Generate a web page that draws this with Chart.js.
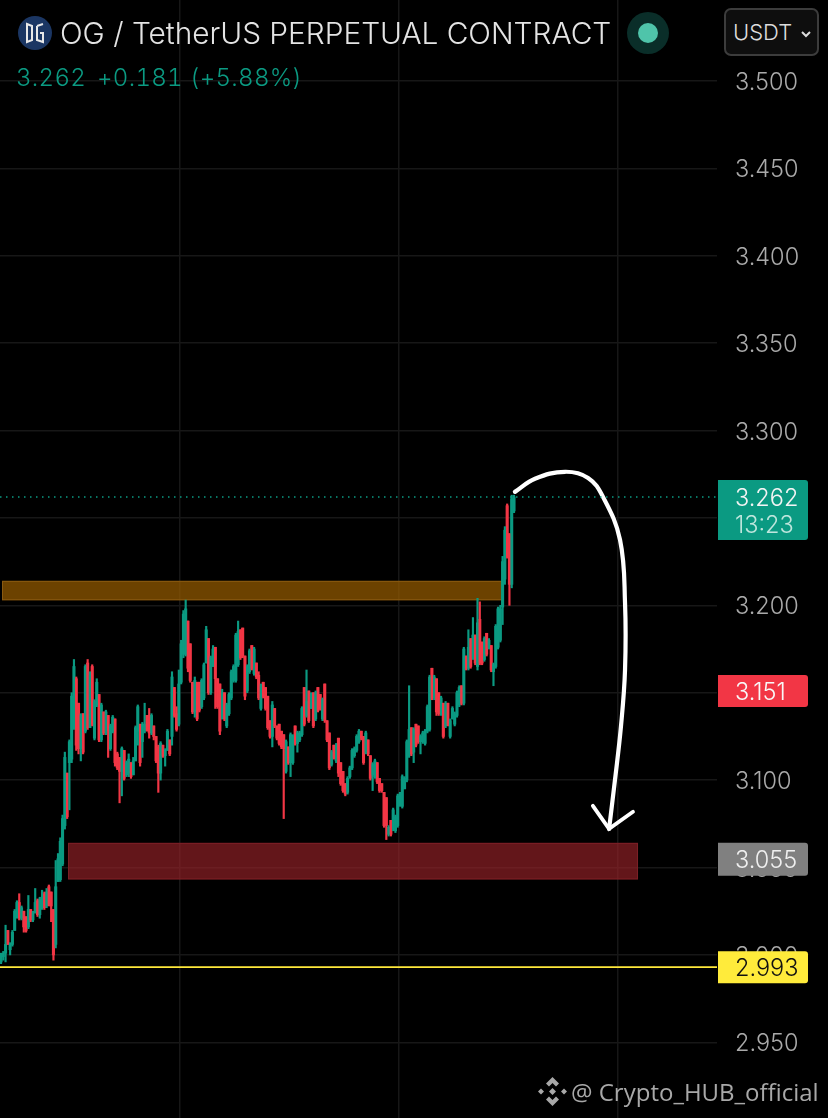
<!DOCTYPE html>
<html>
<head>
<meta charset="utf-8">
<title>OG / TetherUS</title>
<script src="https://cdn.jsdelivr.net/npm/chart.js@4/dist/chart.umd.js"></script>
<style>
  html, body { margin: 0; padding: 0; background: #000; }
  #wrap { position: relative; width: 828px; height: 1118px; overflow: hidden; font-family: Inter, Roboto, sans-serif; }
  canvas { position: absolute; left: 0; top: 0; }
  .abs { position: absolute; white-space: nowrap; }
  #title { left: 60px; top: 14px; font-size: 29.8px; line-height: 38px; font-weight: 300; color: #e4e4e4; }
  .quote { top: 63px; font-size: 24px; line-height: 30px; font-weight: 300; color: #0b9a82; font-variant-numeric: tabular-nums; letter-spacing: 0.3px; }
  #unit { left: 724px; top: 8px; width: 95px; height: 48px; box-sizing: border-box; border: 2px solid #3c3c3c; border-radius: 7px; background: #0e0e0e; color: #ddd; font-size: 22px; line-height: 44px; padding-left: 7px; font-weight: 300; }
  #mark { left: 571px; top: 1076px; font-family: "Open Sans", sans-serif; font-size: 24px; line-height: 32px; color: #a8a8a8; }
</style>
</head>
<body>
<div id="wrap">
  <canvas id="chart" width="828" height="1118"></canvas>
  <svg class="abs" style="left:18px;top:16px" width="34" height="34" viewBox="0 0 34 34">
    <circle cx="17" cy="17" r="17" fill="#1b3663"/>
    <path d="M9 8 L14 10 V24 L9 26 Z M19 10 L25 8 M19 10 V24 L25 26 V17 H22" fill="none" stroke="#e8e8e8" stroke-width="2"/>
  </svg>
  <div class="abs" id="title">OG / TetherUS PERPETUAL CONTRACT</div>
  <svg class="abs" style="left:626px;top:11px" width="44" height="44">
    <circle cx="22" cy="22" r="21" fill="#0a2e29"/>
    <circle cx="22" cy="22" r="10" fill="#4fc4aa"/>
  </svg>
  <div class="abs quote" style="left:16px">3.262</div>
  <div class="abs quote" style="left:97px">+0.181</div>
  <div class="abs quote" style="left:190px">(+5.88%)</div>
  <div class="abs" id="unit">USDT<svg style="position:absolute;left:74px;top:19px" width="12" height="10"><path d="M2 3 L6 7 L10 3" fill="none" stroke="#ddd" stroke-width="2"/></svg></div>
  <svg class="abs" style="left:538px;top:1077px" width="29" height="29" viewBox="0 0 29 29" fill="#a8a8a8">
    <path d="M14.5 0 L21 6.5 L18 9.5 L14.5 6 L11 9.5 L8 6.5 Z"/>
    <path d="M14.5 29 L21 22.5 L18 19.5 L14.5 23 L11 19.5 L8 22.5 Z"/>
    <path d="M0 14.5 L3 11.5 L6 14.5 L3 17.5 Z M23 14.5 L26 11.5 L29 14.5 L26 17.5 Z M14.5 11 L18 14.5 L14.5 18 L11 14.5 Z"/>
  </svg>
  <div class="abs" id="mark">@ Crypto_HUB_official</div>
</div>
<script>
const opens = [
  2.996,2.999,3.001,3.014,3.003,3.006,3.014,3.024,3.030,3.021,3.025,3.021,3.016,3.026,3.020,3.024,3.031,3.023,3.027,3.035,
  3.028,3.039,3.036,3.026,3.006,3.042,3.043,3.052,3.074,3.104,3.110,3.112,3.132,3.158,3.144,3.118,3.138,3.128,3.167,3.130,
  3.165,3.124,3.143,3.149,3.123,3.139,3.127,3.137,3.118,3.128,3.135,3.115,3.113,3.105,3.117,3.103,3.104,3.110,3.103,3.111,
  3.128,3.132,3.122,3.128,3.137,3.137,3.127,3.131,3.125,3.119,3.104,3.120,3.114,3.117,3.123,3.125,3.153,3.138,3.132,3.156,
  3.172,3.172,3.191,3.178,3.156,3.139,3.156,3.156,3.142,3.147,3.167,3.181,3.150,3.165,3.176,3.158,3.155,3.135,3.150,3.131,
  3.138,3.147,3.157,3.157,3.166,3.186,3.187,3.171,3.151,3.162,3.177,3.161,3.167,3.160,3.141,3.156,3.153,3.148,3.134,3.125,
  3.141,3.131,3.132,3.128,3.126,3.105,3.119,3.110,3.110,3.131,3.121,3.123,3.126,3.153,3.137,3.151,3.141,3.150,3.135,3.153,
  3.149,3.135,3.155,3.134,3.127,3.109,3.120,3.111,3.124,3.110,3.105,3.098,3.093,3.102,3.107,3.114,3.117,3.122,3.128,3.125,
  3.116,3.123,3.114,3.103,3.102,3.110,3.101,3.098,3.093,3.090,3.069,3.077,3.072,3.071,3.074,3.086,3.085,3.095,3.100,3.114,
  3.130,3.116,3.132,3.131,3.122,3.122,3.121,3.128,3.129,3.164,3.147,3.158,3.150,3.138,3.144,3.131,3.144,3.125,3.135,3.132,
  3.137,3.143,3.154,3.144,3.171,3.164,3.181,3.170,3.183,3.165,3.192,3.179,3.169,3.184,3.176,3.177,3.162,3.165,3.176,3.180,
  3.199,3.215,3.257,3.241,3.212,3.254
];
const highs = [
  3.001,3.002,3.017,3.014,3.007,3.014,3.026,3.031,3.035,3.028,3.025,3.022,3.034,3.026,3.025,3.038,3.032,3.033,3.037,3.036,
  3.038,3.040,3.036,3.026,3.054,3.058,3.067,3.080,3.116,3.104,3.123,3.150,3.169,3.159,3.144,3.138,3.138,3.166,3.169,3.162,
  3.166,3.146,3.158,3.149,3.144,3.139,3.140,3.137,3.132,3.137,3.135,3.116,3.113,3.119,3.117,3.111,3.115,3.110,3.113,3.131,
  3.143,3.132,3.133,3.144,3.137,3.141,3.138,3.131,3.125,3.120,3.122,3.120,3.118,3.129,3.123,3.162,3.153,3.142,3.163,3.180,
  3.197,3.203,3.191,3.178,3.156,3.159,3.156,3.156,3.158,3.167,3.188,3.181,3.171,3.177,3.176,3.158,3.155,3.152,3.150,3.144,
  3.150,3.163,3.166,3.184,3.191,3.186,3.187,3.171,3.166,3.175,3.177,3.176,3.167,3.162,3.155,3.156,3.153,3.148,3.134,3.145,
  3.141,3.131,3.132,3.128,3.126,3.123,3.119,3.127,3.126,3.131,3.128,3.128,3.142,3.153,3.163,3.151,3.150,3.150,3.151,3.153,
  3.149,3.147,3.155,3.134,3.127,3.117,3.120,3.121,3.124,3.110,3.105,3.098,3.102,3.108,3.118,3.119,3.126,3.129,3.128,3.125,
  3.128,3.123,3.114,3.110,3.112,3.110,3.101,3.098,3.093,3.090,3.074,3.077,3.084,3.080,3.092,3.093,3.103,3.102,3.123,3.154,
  3.130,3.130,3.132,3.131,3.126,3.128,3.129,3.143,3.160,3.164,3.160,3.158,3.150,3.148,3.144,3.145,3.144,3.135,3.142,3.139,
  3.151,3.154,3.154,3.176,3.171,3.186,3.181,3.193,3.183,3.204,3.202,3.179,3.182,3.184,3.181,3.177,3.167,3.189,3.199,3.200,
  3.228,3.245,3.258,3.241,3.263,3.263
];
const lows = [
  2.995,2.997,2.996,3.006,3.000,3.005,3.014,3.021,3.020,3.020,3.013,3.013,3.015,3.019,3.019,3.024,3.022,3.021,3.026,3.026,
  3.027,3.028,3.019,2.997,3.004,3.042,3.042,3.051,3.072,3.078,3.083,3.110,3.129,3.117,3.115,3.111,3.115,3.127,3.129,3.130,
  3.131,3.123,3.142,3.122,3.122,3.126,3.126,3.113,3.117,3.127,3.108,3.106,3.087,3.091,3.100,3.102,3.102,3.101,3.103,3.111,
  3.120,3.108,3.113,3.127,3.128,3.124,3.126,3.123,3.110,3.093,3.100,3.113,3.108,3.117,3.114,3.120,3.136,3.128,3.131,3.155,
  3.170,3.171,3.162,3.156,3.138,3.136,3.134,3.139,3.141,3.146,3.167,3.149,3.149,3.165,3.141,3.141,3.126,3.135,3.134,3.130,
  3.137,3.146,3.156,3.156,3.165,3.169,3.170,3.146,3.150,3.161,3.163,3.160,3.158,3.146,3.140,3.147,3.140,3.129,3.124,3.119,
  3.130,3.123,3.120,3.118,3.078,3.104,3.109,3.102,3.109,3.120,3.116,3.122,3.125,3.131,3.136,3.133,3.141,3.130,3.134,3.139,
  3.140,3.134,3.133,3.122,3.106,3.108,3.112,3.110,3.102,3.097,3.093,3.091,3.092,3.101,3.106,3.113,3.116,3.121,3.123,3.109,
  3.115,3.114,3.100,3.094,3.101,3.098,3.093,3.093,3.073,3.066,3.068,3.068,3.071,3.070,3.073,3.085,3.084,3.095,3.099,3.113,
  3.114,3.110,3.119,3.121,3.115,3.121,3.120,3.127,3.128,3.146,3.146,3.137,3.137,3.137,3.124,3.130,3.131,3.124,3.135,3.131,
  3.136,3.142,3.143,3.143,3.163,3.163,3.164,3.169,3.166,3.163,3.166,3.166,3.168,3.171,3.175,3.162,3.154,3.164,3.175,3.179,
  3.189,3.212,3.227,3.200,3.210,3.253
];
const closes = [
  2.999,3.001,3.006,3.006,3.006,3.013,3.025,3.030,3.021,3.027,3.016,3.014,3.026,3.020,3.024,3.030,3.023,3.032,3.033,3.027,
  3.036,3.029,3.028,3.000,3.039,3.055,3.065,3.078,3.113,3.079,3.122,3.148,3.165,3.120,3.118,3.137,3.116,3.165,3.130,3.160,
  3.132,3.145,3.156,3.123,3.143,3.127,3.139,3.128,3.131,3.136,3.110,3.107,3.105,3.118,3.101,3.110,3.112,3.102,3.111,3.130,
  3.142,3.110,3.132,3.132,3.129,3.127,3.137,3.125,3.111,3.104,3.121,3.114,3.117,3.128,3.115,3.159,3.137,3.129,3.155,3.178,
  3.195,3.198,3.164,3.157,3.139,3.157,3.135,3.140,3.157,3.166,3.186,3.150,3.170,3.175,3.158,3.142,3.128,3.150,3.135,3.143,
  3.149,3.162,3.165,3.183,3.185,3.170,3.171,3.148,3.165,3.174,3.164,3.175,3.159,3.147,3.154,3.148,3.141,3.130,3.125,3.143,
  3.131,3.124,3.121,3.119,3.118,3.122,3.110,3.126,3.125,3.121,3.127,3.127,3.141,3.132,3.145,3.134,3.149,3.131,3.150,3.140,
  3.141,3.146,3.134,3.123,3.107,3.116,3.113,3.120,3.104,3.098,3.094,3.092,3.101,3.107,3.117,3.118,3.125,3.128,3.124,3.110,
  3.127,3.115,3.101,3.109,3.111,3.099,3.094,3.094,3.074,3.074,3.073,3.069,3.083,3.079,3.091,3.092,3.102,3.101,3.122,3.129,
  3.115,3.129,3.120,3.122,3.125,3.127,3.128,3.142,3.159,3.147,3.159,3.139,3.138,3.147,3.125,3.144,3.132,3.134,3.141,3.138,
  3.150,3.153,3.144,3.175,3.164,3.176,3.165,3.183,3.167,3.190,3.167,3.167,3.181,3.172,3.180,3.163,3.166,3.188,3.198,3.198,
  3.225,3.243,3.228,3.212,3.261,3.262
];

const priceTicks = [2.95, 3.00, 3.05, 3.10, 3.15, 3.20, 3.25, 3.30, 3.35, 3.40, 3.45, 3.50];
const timeGridAt = [78.5, 174.4, 270.3];
const lastPrice = 3.262, bidPrice = 3.151, markPrice = 3.055, levelPrice = 2.993;
const countdown = '13:23';
const arrowX = [225.4, 234.2, 247.4, 257.5, 264.0, 271.5, 273.7, 273.7, 271.9, 269.3, 266.7];
const arrowY = [3.2649, 3.2724, 3.2764, 3.2729, 3.2621, 3.2375, 3.2014, 3.1631, 3.1305, 3.1002, 3.0721];
const headX = [259.6, 266.7, 277.2];
const headY = [3.0853, 3.0721, 3.0819];
const xMin = -0.44, xMax = 314.04;
const yMin = 2.9067, yMax = 3.5463;

const UP = '#0b9a82', DOWN = '#f23645';
const candleColors = closes.map((c, i) => c >= opens[i] ? UP : DOWN);
const pts = (xs, ys) => xs.map((x, i) => ({ x: x, y: ys[i] }));

// zones and price tags sit on the plot, placed through the scales
const zones = [
  { x0: 0.44, x1: 219.7, top: 3.214, bottom: 3.2029, fill: 'rgba(150,92,0,0.72)', line: '#8a5a10' },
  { x0: 29.4, x1: 279.4, top: 3.0641, bottom: 3.0432, fill: 'rgba(160,36,42,0.62)', line: '#7c2026' }
];
const overlay = {
  id: 'overlay',
  beforeDatasetsDraw(chart) {
    const { ctx, scales: { x, y } } = chart;
    ctx.save();
    zones.forEach(z => {
      const l = x.getPixelForValue(z.x0), r = x.getPixelForValue(z.x1);
      const t = y.getPixelForValue(z.top), b = y.getPixelForValue(z.bottom);
      ctx.fillStyle = z.fill;
      ctx.fillRect(l, t, r - l, b - t);
      ctx.strokeStyle = z.line;
      ctx.lineWidth = 1;
      ctx.strokeRect(l + 0.5, t + 0.5, r - l - 1, b - t - 1);
    });
    ctx.restore();
  },
  afterDraw(chart) {
    const { ctx, scales: { y } } = chart;
    const tag = (price, top, bottom, bg, fg, label, sub) => {
      const c = y.getPixelForValue(price);
      ctx.fillStyle = bg;
      ctx.beginPath();
      ctx.roundRect(718, c - top, 90, top + bottom, [0, 3, 3, 0]);
      ctx.fill();
      ctx.fillStyle = fg;
      ctx.textAlign = 'left';
      ctx.textBaseline = 'middle';
      ctx.font = '300 23.5px Inter, Roboto, sans-serif';
      ctx.fillText(label, 735, c + 2);
      if (sub) {
        ctx.fillStyle = '#bfe6dd';
        ctx.fillText(sub, 735, c + 29);
      }
    };
    ctx.save();
    tag(lastPrice, 17, 43, '#0b9a82', '#f4f4f4', lastPrice.toFixed(3), countdown);
    tag(bidPrice, 16, 16, '#f23645', '#f8f8f8', bidPrice.toFixed(3));
    tag(markPrice, 16, 17, '#808080', '#f0f0f0', markPrice.toFixed(3));
    tag(levelPrice, 16, 16, '#ffeb3b', '#111', levelPrice.toFixed(3));
    ctx.restore();
  }
};

new Chart(document.getElementById('chart'), {
  type: 'bar',
  data: {
    datasets: [
      // yellow level, dotted last price, then the hand drawn arrow
      { type: 'line', data: pts([xMin, xMax], [levelPrice, levelPrice]), borderColor: '#ffe93b', borderWidth: 1.6, pointRadius: 0 },
      { type: 'line', data: pts([xMin, xMax], [lastPrice, lastPrice]), borderColor: '#0b9a82', borderWidth: 1.5, borderDash: [1.5, 4.5], pointRadius: 0 },
      { label: 'wick', data: opens.map((o, i) => ({ x: i, y: [lows[i], highs[i]] })), backgroundColor: candleColors, barThickness: 1.5, grouped: false },
      { label: 'body', data: opens.map((o, i) => ({ x: i, y: [o, closes[i]] })), backgroundColor: candleColors, barThickness: 2.4, grouped: false },
      { type: 'line', data: pts(arrowX, arrowY), borderColor: '#fff', borderWidth: 4.2, borderCapStyle: 'round', tension: 0.4, pointRadius: 0 },
      { type: 'line', data: pts(headX, headY), borderColor: '#fff', borderWidth: 3.8, borderCapStyle: 'round', tension: 0, pointRadius: 0 }
    ]
  },
  options: {
    responsive: false,
    animation: false,
    events: [],
    layout: { padding: 0 },
    plugins: { legend: { display: false }, tooltip: { enabled: false } },
    scales: {
      x: {
        type: 'linear',
        offset: false,
        min: xMin,
        max: xMax,
        afterBuildTicks: s => { s.ticks = timeGridAt.map(v => ({ value: v })); },
        ticks: { display: false },
        border: { display: false },
        grid: { color: '#171717', drawTicks: false, offset: false, lineWidth: 1.5 }
      },
      y: {
        position: 'right',
        min: yMin,
        max: yMax,
        // no room kept for half a label at the ends, the plot runs the full height
        afterFit: s => { s.width = 111; s.paddingTop = 0; s.paddingBottom = 0; },
        afterBuildTicks: s => { s.ticks = priceTicks.map(v => ({ value: v })); },
        ticks: {
          padding: 18,
          color: '#aaaaaa',
          // blank first line nudges the label down onto the grid line
          font: { family: 'Inter, Roboto, sans-serif', size: 23.5, weight: '300', lineHeight: '4px' },
          callback: v => ['', v.toFixed(3)]
        },
        border: { display: false },
        grid: { color: '#171717', drawTicks: false, lineWidth: 1.5 }
      }
    }
  },
  plugins: [overlay]
});
</script>
</body>
</html>
